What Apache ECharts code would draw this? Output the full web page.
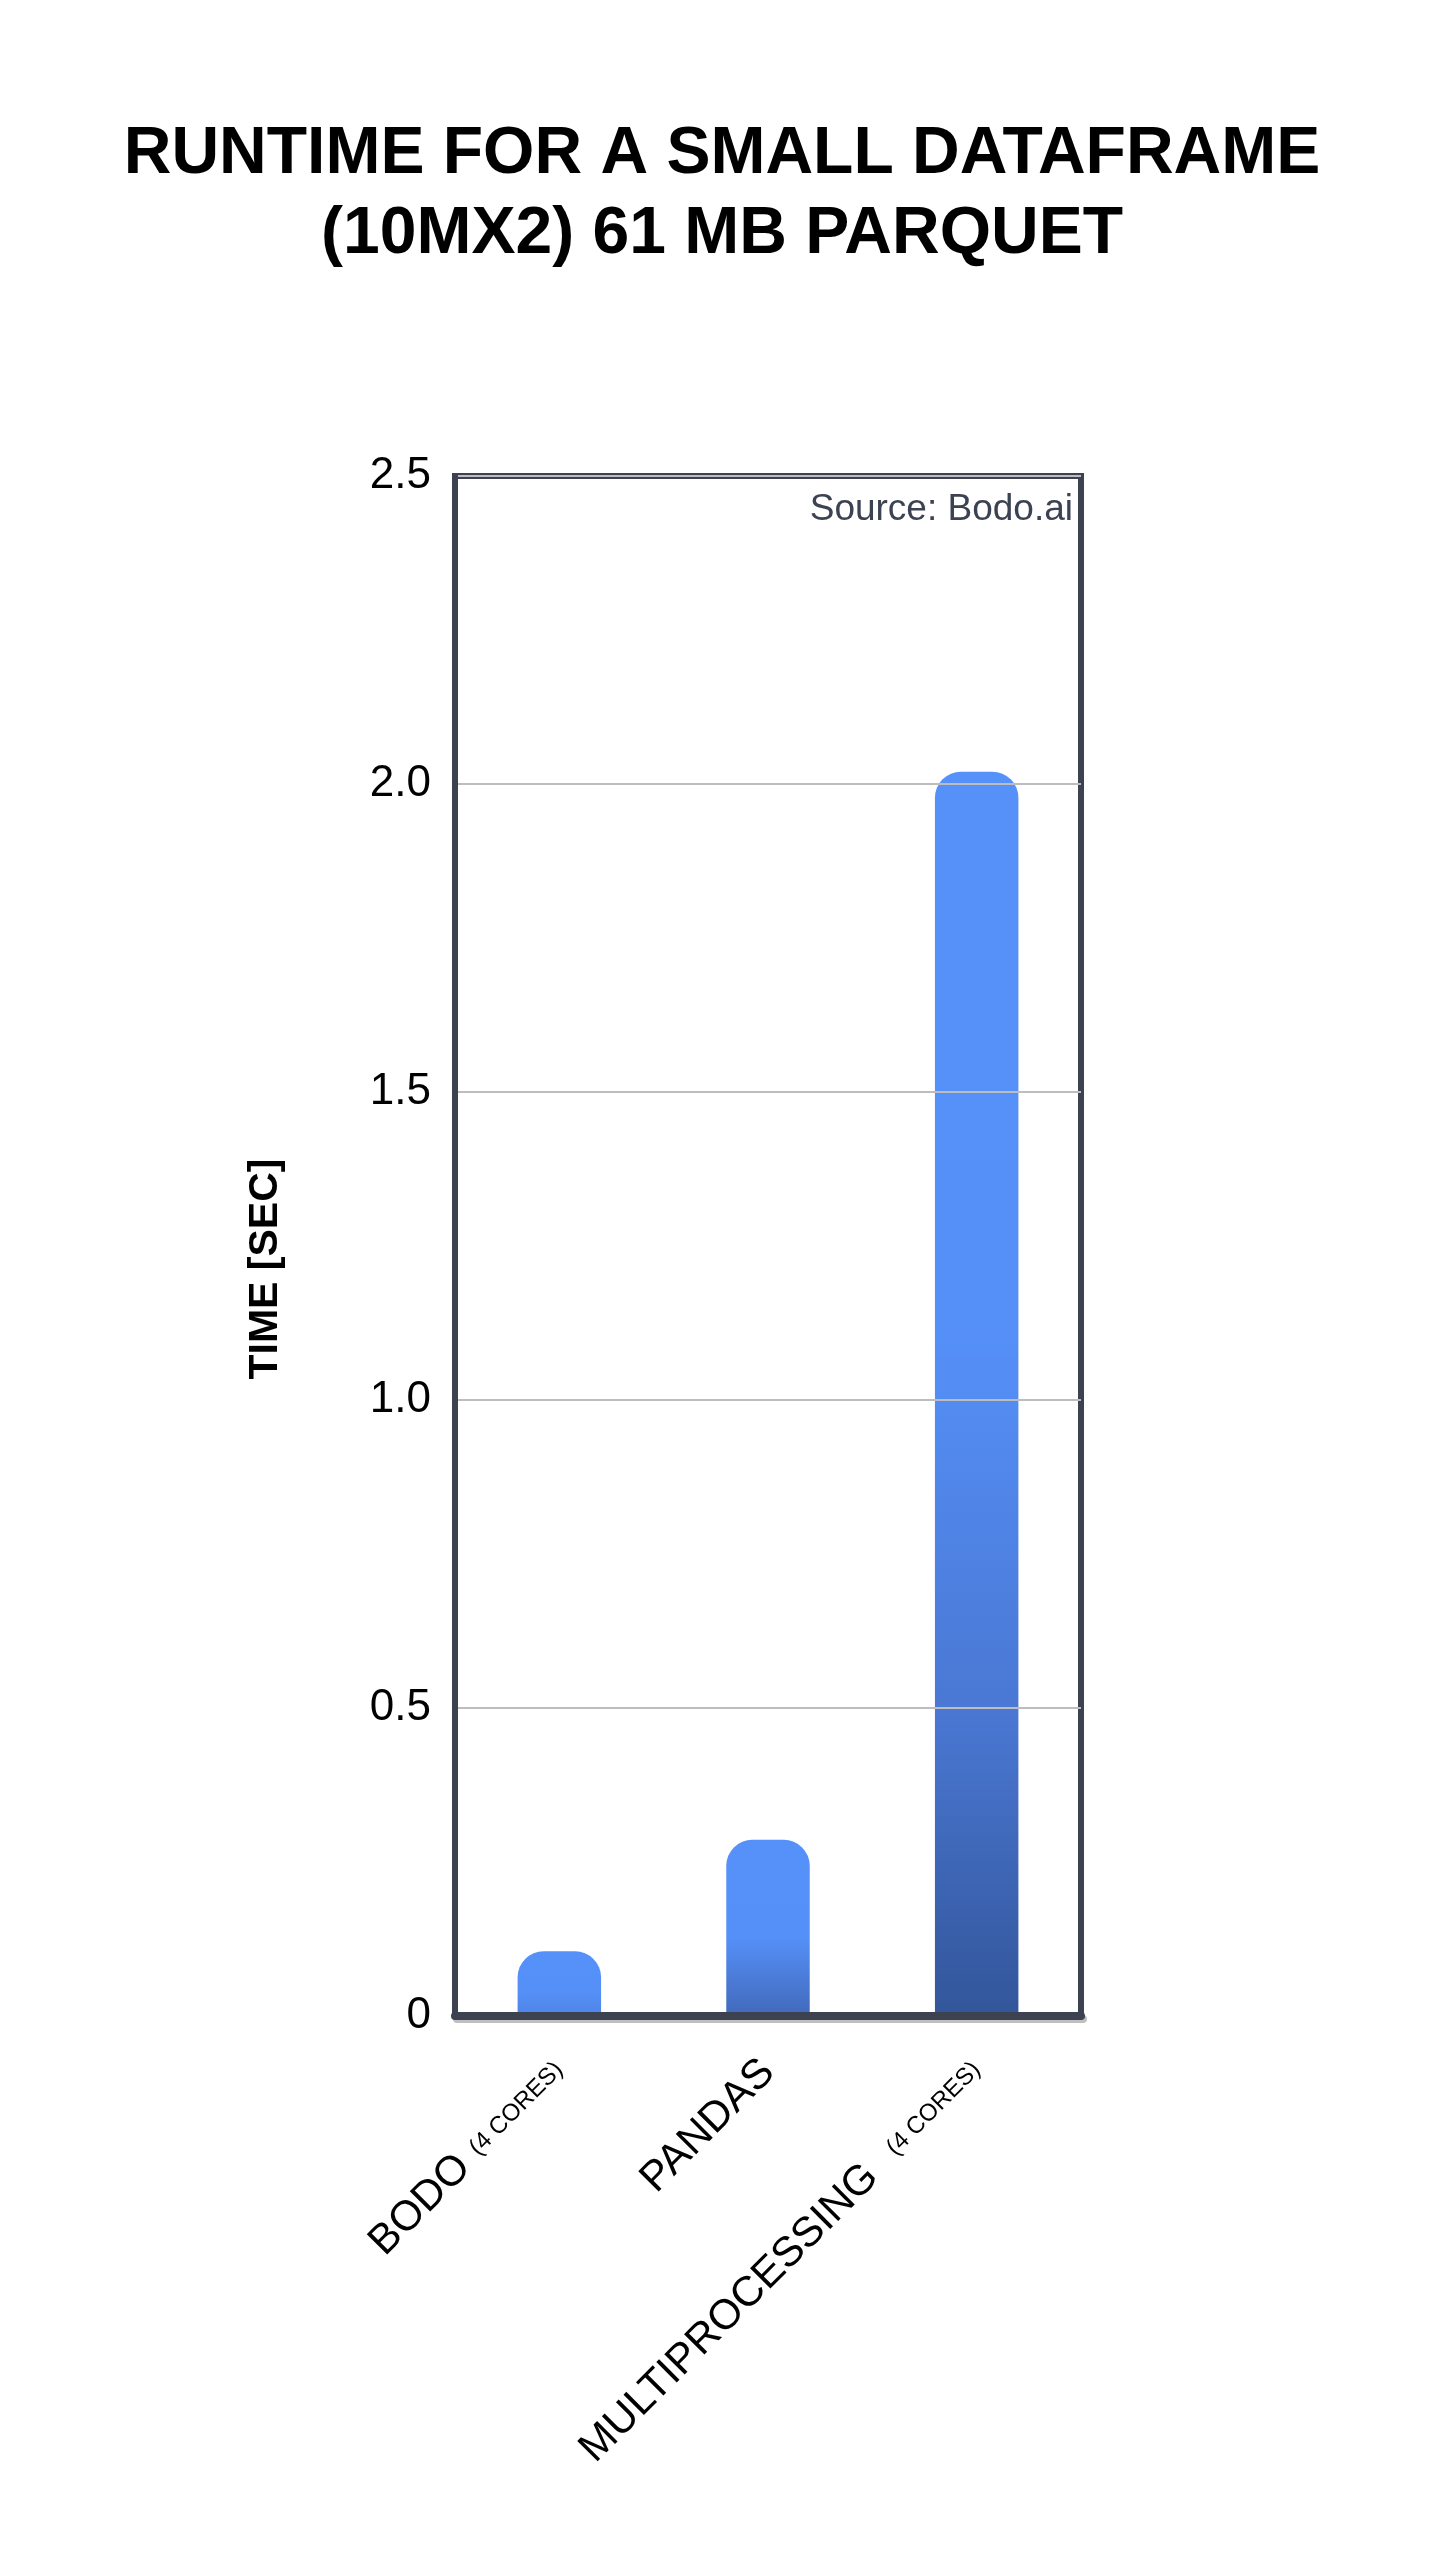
<!DOCTYPE html>
<html>
<head>
<meta charset="utf-8">
<style>
  html, body { margin: 0; padding: 0; background: #ffffff; }
  #chart { width: 1445px; height: 2557px; }
</style>
<script src="https://cdn.jsdelivr.net/npm/echarts@6/dist/echarts.min.js"></script>
</head>
<body>
<div id="chart"></div>
<script>
// ---- data ----
const categories = ['BODO', 'PANDAS', 'MULTIPROCESSING'];
const categoryNotes = ['(4 CORES)', '', '(4 CORES)'];
const runtimeSec = [0.105, 0.286, 2.02];
const yTickValues = [0, 0.5, 1.0, 1.5, 2.0, 2.5];
const yTickLabels = ['0', '0.5', '1.0', '1.5', '2.0', '2.5'];
const titleLines = ['RUNTIME FOR A SMALL DATAFRAME', '(10MX2) 61 MB PARQUET'];
const yAxisTitle = 'TIME [SEC]';
const sourceText = 'Source: Bodo.ai';

// ---- styles ----
const frameColor = '#3c4250';
const barStops = [
  [[0, '#5691f9'], [0.6, '#5590f8'], [1, '#4f84e6']],
  [[0, '#5691f9'], [0.55, '#5590f8'], [1, '#4269bb']],
  [[0, '#5691f9'], [0.45, '#5590f8'], [0.75, '#4a78d4'], [1, '#33569a']]
];

const chart = echarts.init(document.getElementById('chart'), null, { renderer: 'canvas' });

const barData = runtimeSec.map((v, i) => ({
  value: v,
  itemStyle: {
    color: new echarts.graphic.LinearGradient(0, 0, 0, 1,
      barStops[i].map(s => ({ offset: s[0], color: s[1] })))
  }
}));

const option = {
  backgroundColor: '#ffffff',
  animation: false,
  title: {
    text: titleLines.join('\n'),
    left: 717,
    top: 110,
    textAlign: 'center',
    textStyle: {
      fontFamily: 'Liberation Sans, Arial, sans-serif',
      fontWeight: 900,
      fontSize: 66,
      lineHeight: 80,
      color: '#000000'
    }
  },
  grid: {
    left: 455,
    top: 476,
    width: 626,
    height: 1540,
    show: true,
    borderColor: frameColor,
    borderWidth: 6,
    backgroundColor: 'transparent',
    containLabel: false
  },
  xAxis: {
    type: 'category',
    data: categories.map((c, i) => categoryNotes[i] ? c + '|' + categoryNotes[i] : c),
    z: 10,
    axisLine: { show: true, lineStyle: { color: frameColor, width: 8, shadowColor: 'rgba(0,0,0,0.25)', shadowOffsetY: 3, shadowOffsetX: 2 } },
    axisTick: { show: false },
    splitLine: { show: false },
    axisLabel: {
      rotate: 45,
      margin: 50,
      interval: 0,
      formatter: function (val) {
        const parts = val.split('|');
        if (parts.length > 1) {
          const gap = parts[0].length > 6 ? '    ' : '  ';
          return '{b|' + parts[0] + '}{s|' + gap + parts[1] + '}';
        }
        return '{b|' + parts[0] + '}';
      },
      rich: {
        b: {
          fontFamily: 'Liberation Sans, Arial, sans-serif',
          fontSize: 42,
          color: '#000000'
        },
        s: {
          fontFamily: 'Liberation Sans, Arial, sans-serif',
          fontSize: 24,
          color: '#000000'
        }
      }
    }
  },
  yAxis: {
    type: 'value',
    min: 0,
    max: 2.5,
    interval: 0.5,
    z: 10,
    axisLine: { show: true, lineStyle: { color: frameColor, width: 6 } },
    axisTick: { show: false },
    splitLine: { show: true, lineStyle: { color: '#bdbdbd', width: 2 } },
    axisLabel: {
      margin: 24,
      fontFamily: 'Liberation Sans, Arial, sans-serif',
      fontSize: 44,
      color: '#000000',
      formatter: function (v) {
        const idx = yTickValues.findIndex(t => Math.abs(t - v) < 1e-9);
        return idx >= 0 ? yTickLabels[idx] : '';
      }
    }
  },
  series: [{
    type: 'bar',
    data: barData,
    barWidth: '40%',
    itemStyle: { borderRadius: [26, 26, 0, 0] },
    z: 2
  }],
  graphic: [
    {
      type: 'text',
      x: 266,
      y: 1269,
      rotation: Math.PI / 2,
      style: {
        text: yAxisTitle,
        fontFamily: 'Liberation Sans, Arial, sans-serif',
        fontWeight: 'bold',
        fontSize: 41,
        fill: '#000000',
        align: 'center',
        verticalAlign: 'middle'
      }
    },
    {
      type: 'text',
      x: 1073,
      y: 510,
      z: 20,
      style: {
        text: sourceText,
        fontFamily: 'Liberation Sans, Arial, sans-serif',
        fontSize: 37,
        fill: '#3b4252',
        align: 'right',
        verticalAlign: 'middle'
      }
    }
  ]
};

chart.setOption(option);
</script>
</body>
</html>
